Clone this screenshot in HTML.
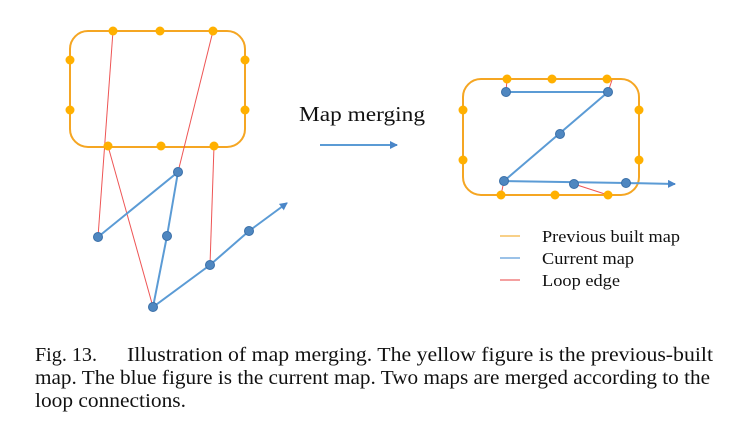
<!DOCTYPE html>
<html><head><style>
body{margin:0;background:#fff;width:738px;height:423px;overflow:hidden;position:relative;font-family:"Liberation Serif",serif;}
</style></head><body>
<svg width="738" height="423" style="position:absolute;left:0;top:0">
<defs><marker id="a" markerWidth="8" markerHeight="8" refX="7" refY="4" orient="auto" markerUnits="userSpaceOnUse"><path d="M0,0 L8,4 L0,8z" fill="#4a86c8"/></marker></defs>
<g fill="none" stroke-width="1">
<rect x="70" y="31" width="175" height="116" rx="18" stroke="#f5a623" stroke-width="2"/>
<g stroke="#ee5555"><line x1="113" y1="31" x2="98" y2="237"/><line x1="213" y1="31" x2="178" y2="172"/><line x1="108" y1="146" x2="153" y2="307"/><line x1="214" y1="146" x2="210" y2="265"/></g>
<g stroke="#5b9bd5" stroke-width="2"><polyline points="98,237 178,172 167,236 153,307 210,265 249,231"/><line x1="249" y1="231" x2="287" y2="203" marker-end="url(#a)"/></g>
<rect x="463" y="79" width="176" height="116" rx="18" stroke="#f5a623" stroke-width="2"/>
<g stroke="#ee5555"><line x1="506" y1="92" x2="507" y2="79"/><line x1="608" y1="92" x2="612" y2="80"/><line x1="504" y1="181" x2="501" y2="195"/><line x1="574" y1="184" x2="608" y2="195"/></g>
<g stroke="#5b9bd5" stroke-width="2"><polyline points="506,92 608,92 504,181 626,183"/><line x1="626" y1="183" x2="675" y2="184" marker-end="url(#a)"/></g>
<line x1="320" y1="145" x2="397" y2="145" stroke="#5b9bd5" stroke-width="2" marker-end="url(#a)"/>
<line x1="500" y1="236" x2="520" y2="236" stroke="#f5c060" stroke-width="1.5"/>
<line x1="500" y1="258" x2="520" y2="258" stroke="#7aaee0" stroke-width="1.5"/>
<line x1="500" y1="280" x2="520" y2="280" stroke="#f08080" stroke-width="1.5"/>
</g>
<g fill="#ffb000">
<circle cx="113" cy="31" r="4.5"/><circle cx="160" cy="31" r="4.5"/><circle cx="213" cy="31" r="4.5"/>
<circle cx="70" cy="60" r="4.5"/><circle cx="70" cy="110" r="4.5"/><circle cx="245" cy="60" r="4.5"/><circle cx="245" cy="110" r="4.5"/>
<circle cx="108" cy="146" r="4.5"/><circle cx="161" cy="146" r="4.5"/><circle cx="214" cy="146" r="4.5"/>
<circle cx="507" cy="79" r="4.5"/><circle cx="552" cy="79" r="4.5"/><circle cx="607" cy="79" r="4.5"/>
<circle cx="463" cy="110" r="4.5"/><circle cx="463" cy="160" r="4.5"/><circle cx="639" cy="110" r="4.5"/><circle cx="639" cy="160" r="4.5"/>
<circle cx="501" cy="195" r="4.5"/><circle cx="555" cy="195" r="4.5"/><circle cx="608" cy="195" r="4.5"/>
</g>
<g fill="#4f87c0" stroke="#3a6fa8" stroke-width="1">
<circle cx="98" cy="237" r="4.5"/><circle cx="178" cy="172" r="4.5"/><circle cx="167" cy="236" r="4.5"/><circle cx="153" cy="307" r="4.5"/><circle cx="210" cy="265" r="4.5"/><circle cx="249" cy="231" r="4.5"/>
<circle cx="506" cy="92" r="4.5"/><circle cx="608" cy="92" r="4.5"/><circle cx="560" cy="134" r="4.5"/><circle cx="504" cy="181" r="4.5"/><circle cx="574" cy="184" r="4.5"/><circle cx="626" cy="183" r="4.5"/>
</g>
<g font-family="Liberation Serif,serif" fill="#111">
<text x="299" y="121" font-size="21" textLength="126" lengthAdjust="spacingAndGlyphs">Map merging</text>
<text x="542" y="242" font-size="17" textLength="138" lengthAdjust="spacingAndGlyphs">Previous built map</text>
<text x="542" y="264" font-size="17" textLength="92" lengthAdjust="spacingAndGlyphs">Current map</text>
<text x="542" y="286" font-size="17" textLength="78" lengthAdjust="spacingAndGlyphs">Loop edge</text>
<g font-size="20">
<text x="35" y="361" textLength="62" lengthAdjust="spacingAndGlyphs">Fig. 13.</text>
<text x="127" y="361" textLength="586" lengthAdjust="spacingAndGlyphs">Illustration of map merging. The yellow figure is the previous-built</text>
<text x="35" y="384" textLength="675" lengthAdjust="spacingAndGlyphs">map. The blue figure is the current map. Two maps are merged according to the</text>
<text x="35" y="407" textLength="151" lengthAdjust="spacingAndGlyphs">loop connections.</text>
</g>
</g>
</svg>
</body></html>
